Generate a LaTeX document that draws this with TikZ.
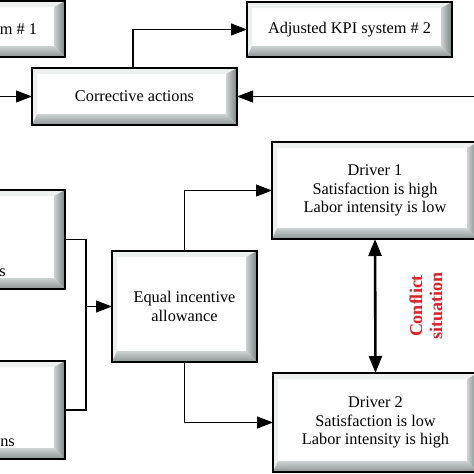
\documentclass[tikz,border=0pt]{standalone}
\usepackage{fontspec}
\setmainfont{Liberation Serif}
\usetikzlibrary{arrows.meta,calc}
\definecolor{conflictred}{RGB}{222,30,40}
\definecolor{bevlight}{RGB}{238,240,240}
\definecolor{bevmid}{RGB}{205,210,210}
\definecolor{bevdark}{RGB}{120,128,128}
\tikzset{
  bevelbox/.style={draw=black, line width=1.4pt, fill=white, inner sep=0pt, outer sep=0pt,
    align=center, font=\fontsize{16.3}{18.5}\selectfont,
    path picture={
      \path (path picture bounding box.south west) coordinate (bsw)
            (path picture bounding box.north east) coordinate (bne);
      \path (bsw) ++(5pt,11pt) coordinate (isw);
      \path (bne) ++(-11pt,-6pt) coordinate (ine);
      \fill[bevlight] (bsw) -- (bsw |- bne) -- (bne) -- (ine) -- (isw |- ine) -- (isw) -- cycle;
      \shade[left color=bevmid, right color=bevdark] (bne) -- (ine) -- (ine |- isw) -- (bne |- bsw) -- cycle;
      \shade[top color=bevmid, bottom color=bevdark!85] (bsw) -- (isw) -- (ine |- isw) -- (bne |- bsw) -- cycle;
    }},
  frag/.style={inner sep=0pt, font=\fontsize{16.3}{18.5}\selectfont},
  conn/.style={line width=1.1pt, -{Triangle[length=16pt,width=12pt]}},
  plainline/.style={line width=1.4pt},
  bothconn/.style={line width=2.6pt, {Triangle[length=17pt,width=13pt]}-{Triangle[length=17pt,width=13pt]}},
  conflict/.style={rotate=90, align=center, text=conflictred, font=\fontsize{18}{20}\selectfont\bfseries}
}
\begin{document}
\begin{tikzpicture}[x=1pt,y=-1pt]
\useasboundingbox (0,0) rectangle (474,474);
% boxes
\node[bevelbox, minimum width=93pt, minimum height=56pt] (kpiA) at (18.5,29) {m \# 1};
\node[bevelbox, minimum width=205pt, minimum height=55pt] (kpiB) at (349.5,29.5) {Adjusted KPI system \# 2};
\node[bevelbox, minimum width=205pt, minimum height=57pt] (corr) at (134.5,96.5) {Corrective actions};
\node[bevelbox, minimum width=93pt, minimum height=99pt] (midL) at (18.5,239.5) {};
\node[bevelbox, minimum width=93pt, minimum height=98pt] (botL) at (18.5,410) {};
\node[bevelbox, minimum width=145pt, minimum height=111pt] (equal) at (184.5,306.5) {Equal incentive\\allowance};
\node[bevelbox, minimum width=206pt, minimum height=97pt] (drv1) at (375,190.5) {Driver 1\\Satisfaction is high\\Labor intensity is low};
\node[bevelbox, minimum width=205pt, minimum height=99pt] (drv2) at (375.5,422.5) {Driver 2\\Satisfaction is low\\Labor intensity is high};
% visible text fragments of the cut-off boxes
\node[frag, anchor=base east] (midLtext) at (6,276) {s};
\node[frag, anchor=base east] (botLtext) at (15,446) {ns};
% conflict label
\node[conflict] (confl) at (426,306) {Conflict\\situation};
% connectors
\coordinate (inL) at (0,96.5);
\coordinate (inR) at (474,96.5);
\coordinate (j) at (86,306.5);
\draw[conn] (inL) -- (corr.west);
\draw[conn] (inR) -- (corr.east);
\draw[conn] ([xshift=-1.5pt]corr.north) |- (kpiB.west);
\draw[plainline] (midL.east) -| (j) |- (botL.east);
\draw[conn] (j) -- (equal.west);
\draw[conn] (equal.north) |- (drv1.west);
\draw[conn] (equal.south) |- (drv2.west);
\draw[bothconn] (drv1.south) -- (drv2.north);
\end{tikzpicture}
\end{document}
